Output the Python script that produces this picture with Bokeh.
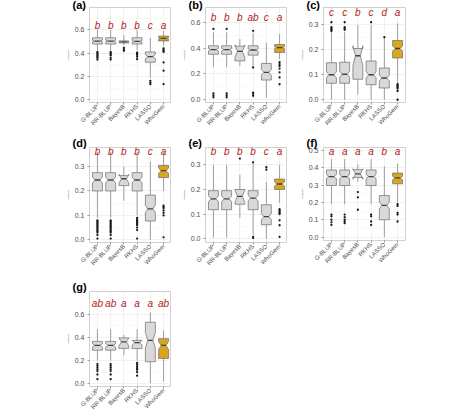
import math
from bokeh.plotting import figure
from bokeh.models import ColumnDataSource, FixedTicker, PrintfTickFormatter, Range1d
from bokeh.layouts import row, column
from bokeh.embed import file_html
from bokeh.resources import INLINE
from bokeh.core.properties import value

methods = ["G-BLUP", "RR-BLUP", "BayesB", "RKHS", "LASSO", "WhoGem"]
box_colors = ["#d9d9d9", "#d9d9d9", "#d9d9d9", "#d9d9d9", "#d9d9d9", "#DAA520"]

# ---- panel (a)
q1_a = [0.478, 0.478, 0.487, 0.478, 0.322, 0.505]
med_a = [0.503, 0.503, 0.497, 0.500, 0.370, 0.526]
q3_a = [0.532, 0.532, 0.505, 0.532, 0.410, 0.546]
lo_a = [0.425, 0.425, 0.465, 0.425, 0.190, 0.463]
hi_a = [0.600, 0.600, 0.555, 0.600, 0.530, 0.590]
notch_a = [0.008, 0.008, 0.006, 0.008, 0.018, 0.006]
out_a = [[0.41, 0.40, 0.39, 0.38, 0.37, 0.36, 0.345],
         [0.41, 0.40, 0.39, 0.38, 0.36, 0.345],
         [0.445, 0.43, 0.42],
         [0.405, 0.395, 0.385, 0.37, 0.348],
         [0.163, 0.148, 0.134],
         [0.44, 0.43, 0.42, 0.41, 0.32, 0.25, 0.134]]
letters_a = ["b", "b", "b", "b", "c", "a"]

# ---- panel (b)
q1_b = [0.352, 0.352, 0.300, 0.345, 0.150, 0.366]
med_b = [0.388, 0.388, 0.375, 0.385, 0.210, 0.403]
q3_b = [0.418, 0.418, 0.415, 0.418, 0.280, 0.428]
lo_b = [0.250, 0.250, 0.260, 0.260, 0.010, 0.313]
hi_b = [0.525, 0.525, 0.470, 0.520, 0.440, 0.510]
notch_b = [0.010, 0.010, 0.050, 0.010, 0.022, 0.008]
out_b = [[0.55, 0.045, 0.03, 0.015],
         [0.55, 0.045, 0.03, 0.015],
         [],
         [0.535, 0.248, 0.052, 0.04, 0.026],
         [],
         [0.29, 0.275, 0.26, 0.24, 0.21, 0.17, 0.117]]
letters_b = ["b", "b", "b", "ab", "c", "a"]

# ---- panel (c)
q1_c = [0.066, 0.066, 0.082, 0.060, 0.047, 0.167]
med_c = [0.100, 0.102, 0.176, 0.100, 0.087, 0.205]
q3_c = [0.148, 0.150, 0.205, 0.155, 0.127, 0.237]
lo_c = [0.0, 0.0, 0.020, 0.0, 0.0, 0.067]
hi_c = [0.270, 0.270, 0.300, 0.300, 0.245, 0.305]
notch_c = [0.012, 0.012, 0.040, 0.012, 0.012, 0.010]
out_c = [[0.31, 0.29, 0.285, 0.28, 0.275],
         [0.31, 0.29, 0.285, 0.28],
         [],
         [0.31],
         [0.25],
         [0.062, 0.058, 0.054, 0.05, 0.045, 0.035, 0.0]]
letters_c = ["c", "c", "b", "c", "d", "a"]

# ---- panel (d)
q1_d = [0.200, 0.200, 0.222, 0.200, 0.077, 0.255]
med_d = [0.245, 0.245, 0.250, 0.245, 0.127, 0.283]
q3_d = [0.275, 0.275, 0.263, 0.275, 0.183, 0.305]
lo_d = [0.090, 0.090, 0.160, 0.100, 0.0, 0.200]
hi_d = [0.360, 0.360, 0.300, 0.360, 0.320, 0.360]
notch_d = [0.012, 0.012, 0.018, 0.012, 0.015, 0.010]
out_d = [[0.08, 0.075, 0.07, 0.065, 0.06, 0.055, 0.05, 0.045, 0.04, 0.035, 0.03, 0.02, 0.005],
         [0.08, 0.075, 0.07, 0.065, 0.06, 0.055, 0.05, 0.045, 0.04, 0.035, 0.03, 0.02, 0.005],
         [],
         [0.09, 0.085, 0.08, 0.075, 0.07, 0.065, 0.06, 0.05, 0.04, 0.005],
         [],
         [0.14, 0.135, 0.13, 0.12, 0.11, 0.10, 0.01]]
letters_d = ["b", "b", "b", "b", "c", "a"]

# ---- panel (e)
q1_e = [0.118, 0.118, 0.140, 0.118, 0.057, 0.200]
med_e = [0.162, 0.162, 0.172, 0.165, 0.090, 0.222]
q3_e = [0.195, 0.195, 0.200, 0.195, 0.138, 0.242]
lo_e = [0.005, 0.005, 0.085, 0.016, 0.0, 0.145]
hi_e = [0.300, 0.300, 0.260, 0.305, 0.230, 0.300]
notch_e = [0.012, 0.012, 0.025, 0.012, 0.012, 0.008]
out_e = [[], [], [0.325], [0.31, 0.008, 0.003], [0.29, 0.28],
         [0.12, 0.115, 0.11, 0.105, 0.10, 0.075, 0.055, 0.008]]
letters_e = ["b", "b", "b", "b", "c", "a"]

# ---- panel (f)
q1_f = [0.298, 0.298, 0.345, 0.298, 0.100, 0.308]
med_f = [0.350, 0.350, 0.365, 0.350, 0.183, 0.342]
q3_f = [0.388, 0.388, 0.390, 0.388, 0.240, 0.370]
lo_f = [0.190, 0.190, 0.320, 0.190, 0.0, 0.200]
hi_f = [0.450, 0.450, 0.420, 0.450, 0.410, 0.425]
notch_f = [0.012, 0.012, 0.030, 0.012, 0.020, 0.010]
out_f = [[0.13, 0.12, 0.10, 0.085, 0.07],
         [0.13, 0.115, 0.10, 0.09, 0.08],
         [0.26, 0.23, 0.158],
         [0.13, 0.12, 0.09, 0.07],
         [],
         [0.19, 0.18, 0.14, 0.13, 0.09]]
letters_f = ["a", "a", "a", "a", "b", "a"]

# ---- panel (g)
q1_g = [0.289, 0.289, 0.305, 0.303, 0.190, 0.218]
med_g = [0.330, 0.330, 0.360, 0.354, 0.374, 0.330]
q3_g = [0.365, 0.365, 0.395, 0.374, 0.530, 0.388]
lo_g = [0.200, 0.200, 0.246, 0.200, 0.005, 0.020]
hi_g = [0.470, 0.470, 0.420, 0.470, 0.615, 0.460]
notch_g = [0.015, 0.015, 0.035, 0.020, 0.065, 0.035]
out_g = [[0.17, 0.155, 0.14, 0.125, 0.11, 0.08, 0.04],
         [0.17, 0.155, 0.14, 0.125, 0.11, 0.08, 0.04],
         [],
         [0.18, 0.165, 0.15, 0.135, 0.12, 0.10, 0.07],
         [],
         []]
letters_g = ["ab", "ab", "a", "a", "a", "ab"]

FONT = "Liberation Sans"


def make_panel(tag, q1, med, q3, lo, hi, notch, outs, letters, letter_y,
               yr, yticks, yminor, bl, bt, bb, br, fh, tstand):
    p = figure(frame_width=82, frame_height=fh, output_backend="svg", toolbar_location=None,
               x_range=Range1d(0.4, 6.6), y_range=Range1d(*yr),
               min_border_left=bl, min_border_top=bt, min_border_bottom=bb, min_border_right=br,
               background_fill_color="white", border_fill_color="white")
    p.outline_line_color = "#c4c4c4"
    p.outline_line_width = 0.8

    # panel tag as the figure title, shifted to the left of the frame
    p.title.text = tag
    p.title.align = "left"
    p.title.offset = -17
    p.title.standoff = tstand
    p.title.text_font = FONT
    p.title.text_font_size = "11px"
    p.title.text_font_style = "bold"
    p.title.text_color = "black"

    xpos = [i + 1 for i in range(len(methods))]
    w = 0.375
    nw = w * 0.5
    xs, ys = [], []
    for i, x in enumerate(xpos):
        m, n = med[i], notch[i]
        xs.append([x - w, x - w, x - nw, x - w, x - w, x + w, x + w, x + nw, x + w, x + w])
        ys.append([q1[i], m - n, m, m + n, q3[i], q3[i], m + n, m, m - n, q1[i]])

    # whiskers
    wsrc = ColumnDataSource(dict(x=xpos + xpos, y0=q3 + q1, y1=hi + lo))
    p.segment(x0="x", y0="y0", x1="x", y1="y1", source=wsrc, line_color="#7a7a7a", line_width=0.7)

    # outliers
    ox, oy = [], []
    for i, vals in enumerate(outs):
        for v in vals:
            ox.append(xpos[i])
            oy.append(v)
    p.scatter(ox, oy, size=2.3, color="#1a1a1a", line_width=0)

    bsrc = ColumnDataSource(dict(xs=xs, ys=ys, fill=box_colors))
    p.patches(xs="xs", ys="ys", fill_color="fill", line_color="#6a6a6a", line_width=0.7, source=bsrc)

    msrc = ColumnDataSource(dict(x0=[x - nw for x in xpos], x1=[x + nw for x in xpos], y=med))
    p.segment(x0="x0", y0="y", x1="x1", y1="y", source=msrc, line_color="#404040", line_width=1.3)

    tsrc = ColumnDataSource(dict(x=xpos, y=[letter_y] * len(xpos), t=letters))
    p.text(x="x", y="y", text="t", source=tsrc, text_font=value(FONT), text_font_style="italic",
           text_color="#B22222", text_font_size="10px", text_align="center", text_baseline="middle")

    # axes
    p.xaxis.ticker = FixedTicker(ticks=xpos)
    p.xaxis.major_label_overrides = {x: m for x, m in zip(xpos, methods)}
    p.xaxis.major_label_orientation = math.pi / 4
    p.yaxis.ticker = FixedTicker(ticks=yticks, minor_ticks=yminor)
    p.yaxis.formatter = PrintfTickFormatter(format="%.1f")
    for ax in (p.xaxis[0], p.yaxis[0]):
        ax.axis_line_color = None
        ax.major_tick_out = 2
        ax.major_tick_in = 0
        ax.major_tick_line_color = "#555555"
        ax.major_tick_line_width = 0.6
        ax.minor_tick_line_color = None
        ax.major_label_text_font = FONT
        ax.major_label_text_color = "#4d4d4d"
        ax.major_label_standoff = 1
    p.xaxis.major_label_text_font_size = "6px"
    p.yaxis.major_label_text_font_size = "7px"
    p.yaxis.axis_label = "Accuracy"
    p.yaxis.axis_label_text_font = FONT
    p.yaxis.axis_label_text_font_size = "2.5px"
    p.yaxis.axis_label_text_font_style = "normal"
    p.yaxis.axis_label_text_color = "#333333"
    p.yaxis.axis_label_standoff = 2

    p.xgrid.grid_line_color = "#ebebeb"
    p.xgrid.grid_line_width = 0.7
    p.ygrid.grid_line_color = "#ebebeb"
    p.ygrid.grid_line_width = 0.7
    p.ygrid.minor_grid_line_color = "#f5f5f5"
    p.ygrid.minor_grid_line_width = 0.5
    return p


t2 = [0.0, 0.2, 0.4, 0.6]
m2 = [0.1, 0.3, 0.5, 0.7]
t1 = [0.0, 0.1, 0.2, 0.3]
m1 = [0.05, 0.15, 0.25, 0.35]
t5 = [0.0, 0.1, 0.2, 0.3, 0.4, 0.5]
m5 = [0.05, 0.15, 0.25, 0.35, 0.45]

pa = make_panel("(a)", q1_a, med_a, q3_a, lo_a, hi_a, notch_a, out_a, letters_a, 0.635,
                (-0.023, 0.791), t2, m2, 89, 0, 27, 0, 95, -7)
pb = make_panel("(b)", q1_b, med_b, q3_b, lo_b, hi_b, notch_b, out_b, letters_b, 0.637,
                (-0.026, 0.718), t2, m2, 34, 0, 27, 0, 95, -7)
pc = make_panel("(c)", q1_c, med_c, q3_c, lo_c, hi_c, notch_c, out_c, letters_c, 0.350,
                (-0.011, 0.369), t1, m1, 36, 0, 27, 5, 95, -7)
pd = make_panel("(d)", q1_d, med_d, q3_d, lo_d, hi_d, notch_d, out_d, letters_d, 0.361,
                (-0.011, 0.378), t1, m1, 89, 14, 27, 0, 95, -3)
pe = make_panel("(e)", q1_e, med_e, q3_e, lo_e, hi_e, notch_e, out_e, letters_e, 0.353,
                (-0.015, 0.370), t1, m1, 34, 14, 27, 0, 95, -3)
pf = make_panel("(f)", q1_f, med_f, q3_f, lo_f, hi_f, notch_f, out_f, letters_f, 0.497,
                (-0.020, 0.518), t5, m5, 36, 16, 29, 5, 93, -3)
pg = make_panel("(g)", q1_g, med_g, q3_g, lo_g, hi_g, notch_g, out_g, letters_g, 0.687,
                (-0.023, 0.794), t2, m2, 89, 22, 0, 0, 95, -3)

layout = column(row(pa, pb, pc), row(pd, pe, pf), row(pg))
open("out.html", "w").write(file_html(layout, INLINE))
